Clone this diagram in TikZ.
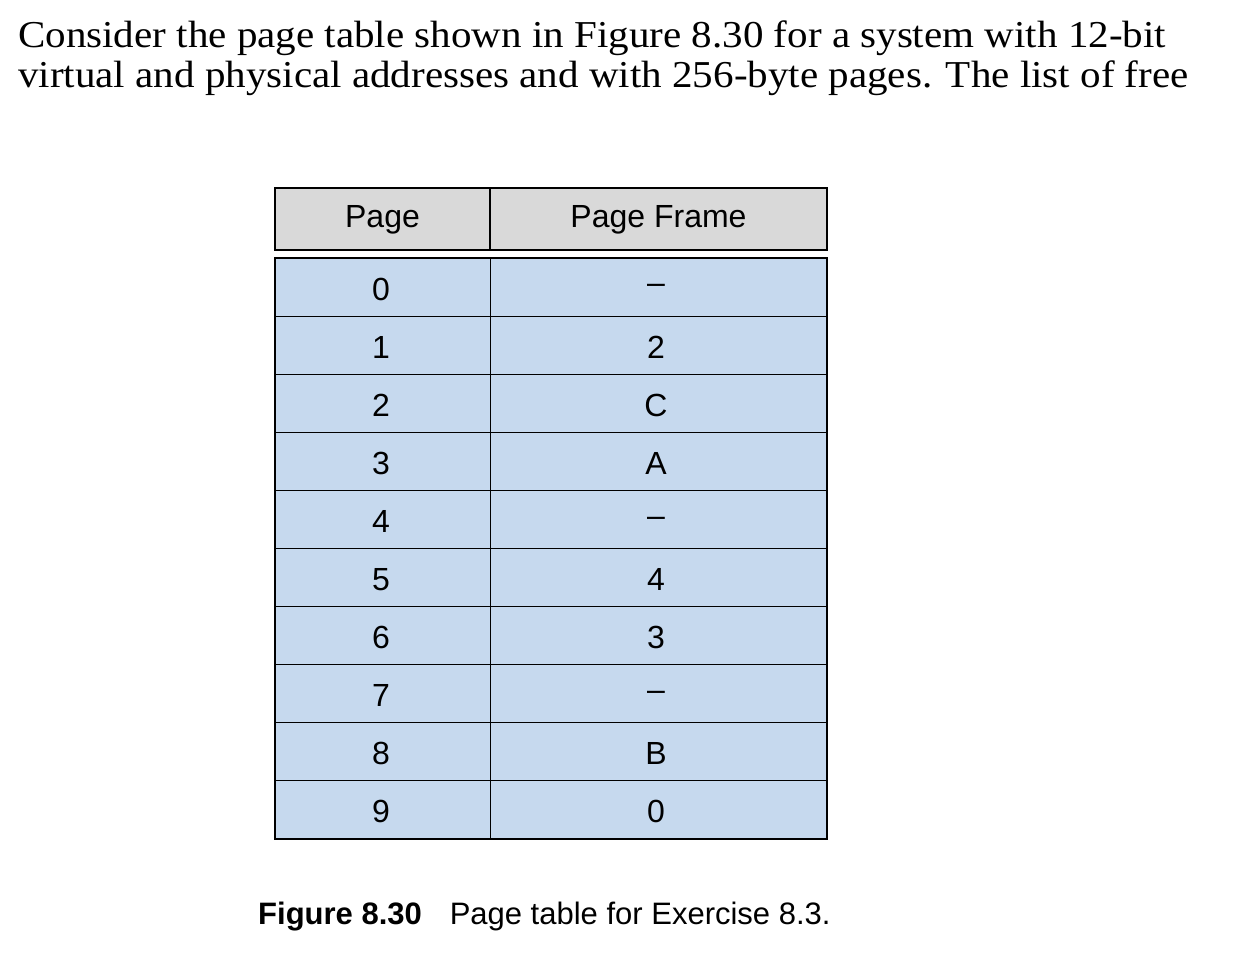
\documentclass[tikz,border=0pt]{standalone}
\usepackage{fontspec}
\setmainfont{Liberation Serif}
\setsansfont{Liberation Sans}
\begin{document}
\begin{tikzpicture}[x=1pt,y=-1pt,
  cell/.style={font=\sffamily\fontsize{32}{35}\selectfont},
  para/.style={font=\fontsize{38}{42}\selectfont,anchor=west,inner sep=0}]
\useasboundingbox (0,0) rectangle (1260,962);
\node[para] (l1) at (18,38) {\scalebox{1.08}[1]{Consider the page table shown in Figure 8.30 for a system with 12-bit}};
\node[para] (l2) at (18,78) {\scalebox{1.08}[1]{virtual and physical addresses and with 256-byte pages. The list of free}};
% header
\fill[gray!30] (275,188) rectangle (827,250);
\draw[line width=1.2pt] (275,188) rectangle (827,250);
\draw[line width=2.5pt] (275,250) -- (827,250) (827,188)--(827,250) (275,188)--(827,188);
\draw[line width=1.2pt] (490,188) -- (490,250);
\node[cell] (h1) at (382.5,220) {Page};
\node[cell] (h2) at (658.5,220) {Page Frame};
% body
\fill[fill={rgb,255:red,198;green,217;blue,238}] (275,258) rectangle (827,839);
\foreach \i in {1,...,9} \draw[line width=1pt] (275,258+58.1*\i) -- (827,258+58.1*\i);
\draw[line width=1pt] (490,258) -- (490,839);
\draw[line width=2pt] (275,258) rectangle (827,839);
\foreach \p/\f [count=\k from 0] in {0/--,1/2,2/C,3/A,4/--,5/4,6/3,7/--,8/B,9/0} {
  \node[cell] (p\k) at (381,289+58.1*\k) {\p};
  \node[cell] (f\k) at (656,289+58.1*\k) {\ifx\f--\rule[0.33em]{17pt}{2pt}\else\f\fi};
}
\node[font=\sffamily\fontsize{31}{34}\selectfont,anchor=west,inner sep=0] (cap) at (258,917) {\textbf{Figure 8.30}\hspace{0.9em}Page table for Exercise 8.3.};
\end{tikzpicture}
\end{document}
